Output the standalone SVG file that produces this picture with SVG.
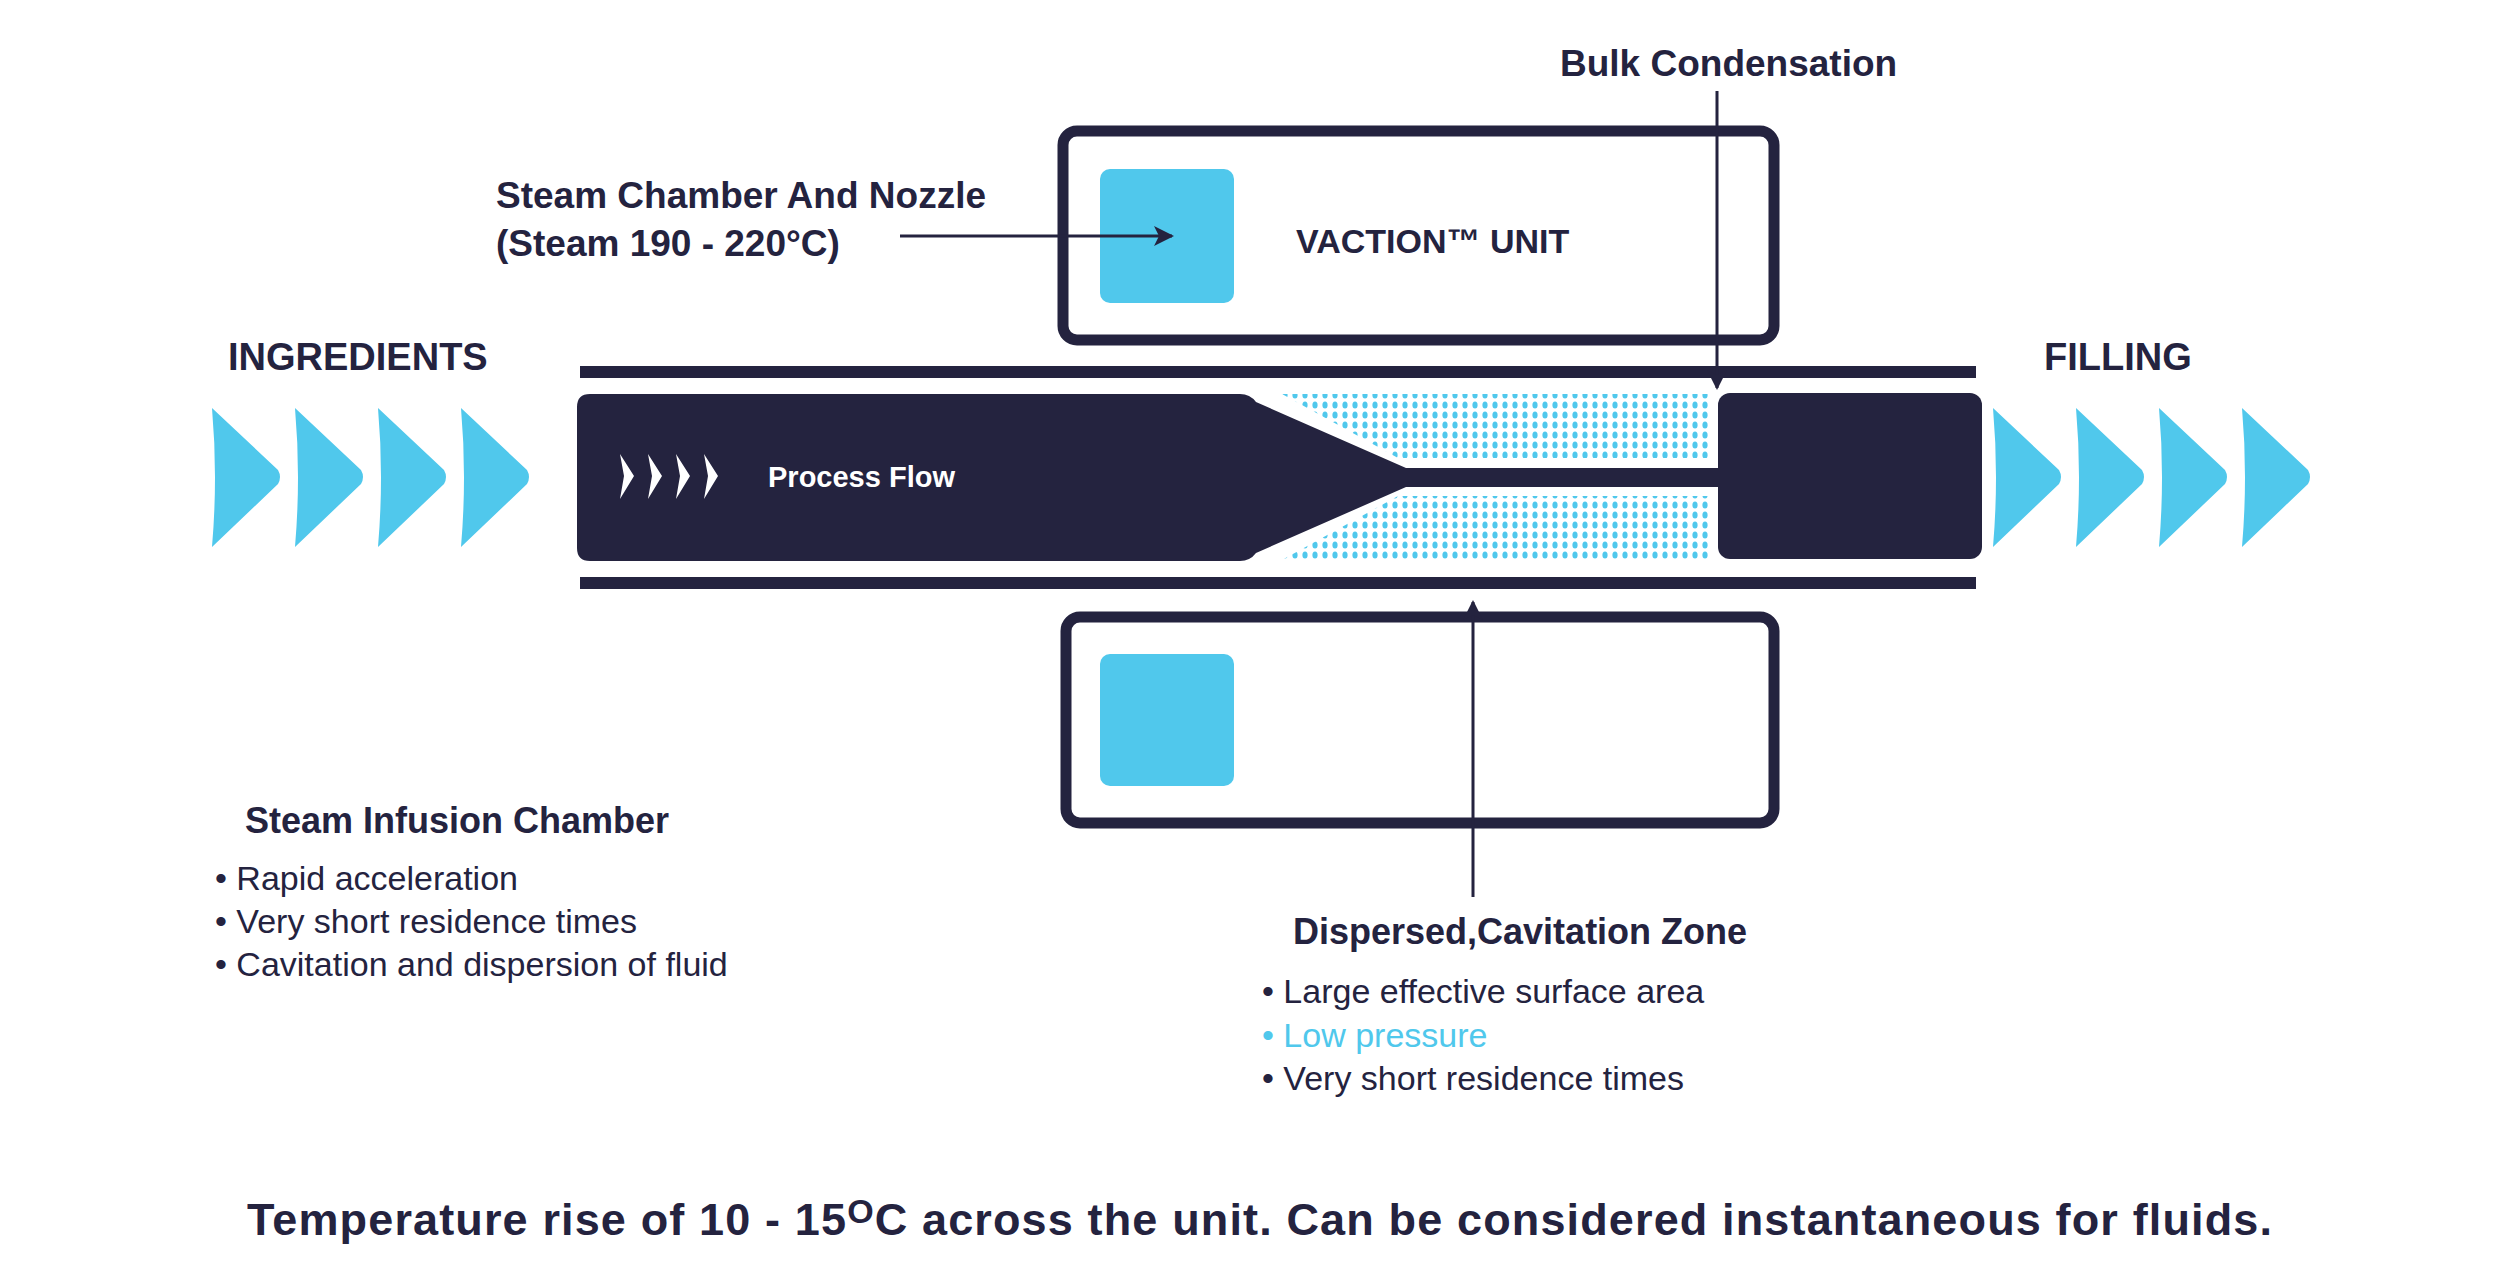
<svg xmlns="http://www.w3.org/2000/svg" width="2500" height="1271" viewBox="0 0 2500 1271">
<style>
.d{fill:#24233f}.c{fill:#50c8ec}
.t{font-family:"Liberation Sans",Arial,sans-serif;fill:#24233f}
.b{font-weight:bold}
.box{fill:none;stroke:#24233f;stroke-width:11}
.ln{stroke:#24233f;stroke-width:3;fill:none}
</style>
<defs>
<pattern id="dots" x="0" y="0" width="10" height="10" patternUnits="userSpaceOnUse">
<ellipse cx="5" cy="5" rx="2.6" ry="3.6" fill="#50c8ec"/>
</pattern>
<marker id="ah" viewBox="0 0 20 20" refX="18" refY="10" markerWidth="20" markerHeight="20" markerUnits="userSpaceOnUse" orient="auto"><path d="M0,0 L20,10 L0,20 L5,10 Z" fill="#24233f"/></marker>
<g id="chev"><path d="M0,0 L66,62 Q70,69 66,76 L0,139 Q6,69 0,0 Z" fill="#50c8ec"/></g>
<g id="sch"><path d="M0,0 L14,22 L0,45 L4,22 Z" fill="#fff"/></g>
</defs>
<rect width="2500" height="1271" fill="#fff"/>

<g id="ingredients">
<text class="t b" x="228" y="370" font-size="38">INGREDIENTS</text>
<use href="#chev" x="212" y="408"/><use href="#chev" x="295" y="408"/><use href="#chev" x="378" y="408"/><use href="#chev" x="461" y="408"/>
</g>
<g id="filling">
<text class="t b" x="2044" y="370" font-size="38">FILLING</text>
<use href="#chev" x="1993" y="408"/><use href="#chev" x="2076" y="408"/><use href="#chev" x="2159" y="408"/><use href="#chev" x="2242" y="408"/>
</g>

<g id="vaction-top">
<rect class="box" x="1063" y="131" width="711" height="209" rx="14"/>
<rect class="c" x="1100" y="169" width="134" height="134" rx="10"/>
<text class="t b" x="1296" y="253" font-size="34">VACTION™ UNIT</text>
</g>
<g id="vaction-bottom">
<rect class="box" x="1066" y="617" width="708" height="206" rx="14"/>
<rect class="c" x="1100" y="654" width="134" height="132" rx="10"/>
</g>

<g id="pipe">
<rect class="d" x="580" y="366" width="1396" height="12"/>
<rect class="d" x="580" y="577" width="1396" height="12"/>
<polygon points="1282,394 1712,394 1712,458 1398,458" fill="url(#dots)"/>
<polygon points="1398,496 1712,496 1712,560 1282,560" fill="url(#dots)"/>
<path class="d" d="M590,394 L1240,394 Q1250,394 1256,402 L1406,468 L1718,468 L1718,487 L1406,487 L1256,553 Q1250,561 1240,561 L590,561 Q577,561 577,548 L577,407 Q577,394 590,394 Z"/>
<rect class="d" x="1718" y="393" width="264" height="166" rx="12"/>
<use href="#sch" x="620" y="454"/><use href="#sch" x="648" y="454"/><use href="#sch" x="676" y="454"/><use href="#sch" x="704" y="454"/>
<text x="768" y="487" font-size="29" font-family="Liberation Sans,Arial,sans-serif" font-weight="bold" fill="#fff">Process Flow</text>
</g>

<g id="labels">
<text class="t b" x="1560" y="76" font-size="37">Bulk Condensation</text>
<text class="t b" x="496" y="208" font-size="37">Steam Chamber And Nozzle</text>
<text class="t b" x="496" y="256" font-size="37">(Steam 190 - 220°C)</text>
</g>

<g id="connectors">
<line class="ln" x1="900" y1="236" x2="1172" y2="236" stroke-width="4" marker-end="url(#ah)"/>
<line class="ln" x1="1717" y1="91" x2="1717" y2="388" marker-end="url(#ah)"/>
<line class="ln" x1="1473" y1="897" x2="1473" y2="602" marker-end="url(#ah)"/>
</g>

<g id="infusion">
<text class="t b" x="245" y="833" font-size="36">Steam Infusion Chamber</text>
<text class="t" font-size="34"><tspan x="215" y="890">• Rapid acceleration</tspan><tspan x="215" y="933">• Very short residence times</tspan><tspan x="215" y="976">• Cavitation and dispersion of  fluid</tspan></text>
</g>
<g id="dispersed">
<text class="t b" x="1293" y="944" font-size="36">Dispersed,Cavitation Zone</text>
<text class="t" font-size="34"><tspan x="1262" y="1003">• Large effective surface area</tspan><tspan x="1262" y="1047" fill="#50c8ec">• Low pressure</tspan><tspan x="1262" y="1090">• Very short residence times</tspan></text>
</g>

<text class="t b" x="247" y="1235" font-size="45" textLength="2025">Temperature rise of 10 - 15<tspan dy="-12" font-size="34">O</tspan><tspan dy="12">C across the unit. Can be considered instantaneous for fluids.</tspan></text>
</svg>
